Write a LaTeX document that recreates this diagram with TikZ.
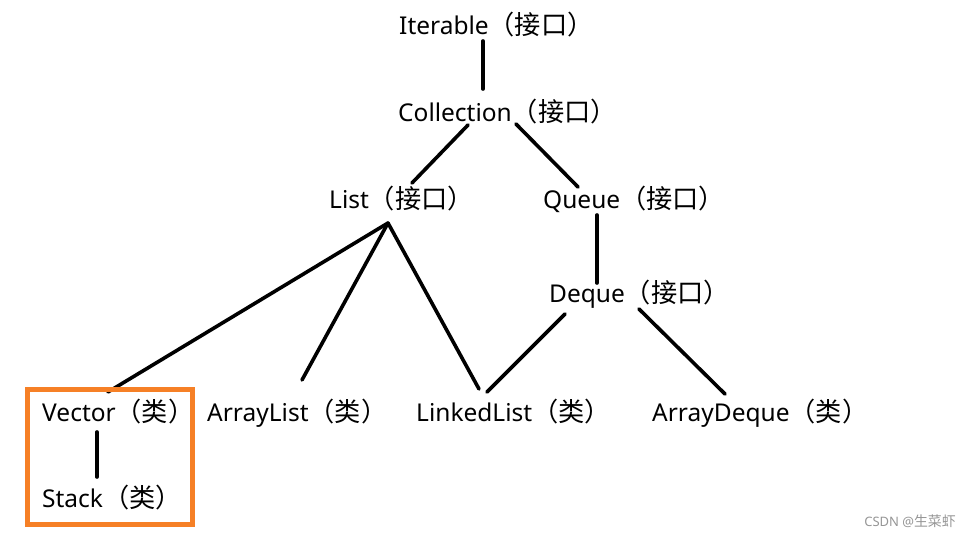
\documentclass[tikz,border=0pt]{standalone}
\usepackage{fontspec}
\setmainfont{Noto Sans}
\newfontfamily\cjk[Scale=1.07]{Noto Sans CJK SC}
\usetikzlibrary{calc}
\definecolor{boxorange}{RGB}{246,128,38}
\definecolor{wmgray}{RGB}{150,150,150}
\begin{document}
\begin{tikzpicture}[x=1pt,y=-1pt,
  lbl/.style={anchor=base west,inner sep=0pt,font=\fontsize{24.5pt}{28pt}\selectfont},
  edge/.style={line width=3.6pt,line cap=round,black}]
\fill[white] (0,0) rectangle (970,537);
\useasboundingbox (0,0) rectangle (970,537);
\node[lbl] (iter)  at (399,35)  {Iterable{\cjk（接口）}};
\node[lbl] (coll)  at (398,122) {Collection{\cjk（接口）}};
\node[lbl] (list)  at (329,209) {List{\cjk（接口）}};
\node[lbl] (queue) at (543,209) {Queue{\cjk（接口）}};
\node[lbl] (deque) at (549,303) {Deque{\cjk（接口）}};
\node[lbl] (vec)   at (42,422)  {Vector{\cjk（类）}};
\node[lbl] (al)    at (207,422) {ArrayList{\cjk（类）}};
\node[lbl] (ll)    at (416,422) {LinkedList{\cjk（类）}};
\node[lbl] (ad)    at (652,422) {ArrayDeque{\cjk（类）}};
\node[lbl] (stack) at (42,507)  {Stack{\cjk（类）}};
\node[anchor=base east,inner sep=0pt,text=wmgray,font=\fontsize{13pt}{15pt}\selectfont] (wm) at (956,526) {CSDN @{\cjk 生菜虾}};
\coordinate (lh) at ($(list.base west)+(59,14)$);
\draw[edge] ($(iter.base west)+(84,6)$) -- ($(coll.base west)+(85,-33)$);
\draw[edge] ($(coll.base west)+(70,3)$) -- ($(list.base west)+(83,-26)$);
\draw[edge] ($(coll.base west)+(118,2)$) -- ($(queue.base west)+(35,-22)$);
\draw[edge] (lh) -- ($(vec.base west)+(66,-30)$);
\draw[edge] (lh) -- ($(al.base west)+(95,-42)$);
\draw[edge] (lh) -- ($(ll.base west)+(63,-33)$);
\draw[edge] ($(queue.base west)+(54,6)$) -- ($(deque.base west)+(48,-20)$);
\draw[edge] ($(deque.base west)+(16,11)$) -- ($(ll.base west)+(71,-30)$);
\draw[edge] ($(deque.base west)+(90,6)$) -- ($(ad.base west)+(73,-28)$);
\draw[edge] ($(vec.base west)+(55,10)$) -- ($(stack.base west)+(55,-30)$);
\draw[boxorange,line width=5pt] ($(vec.base west)+(-14.5,-32)$) rectangle ($(stack.base west)+(150.5,17.5)$);
\end{tikzpicture}
\end{document}
